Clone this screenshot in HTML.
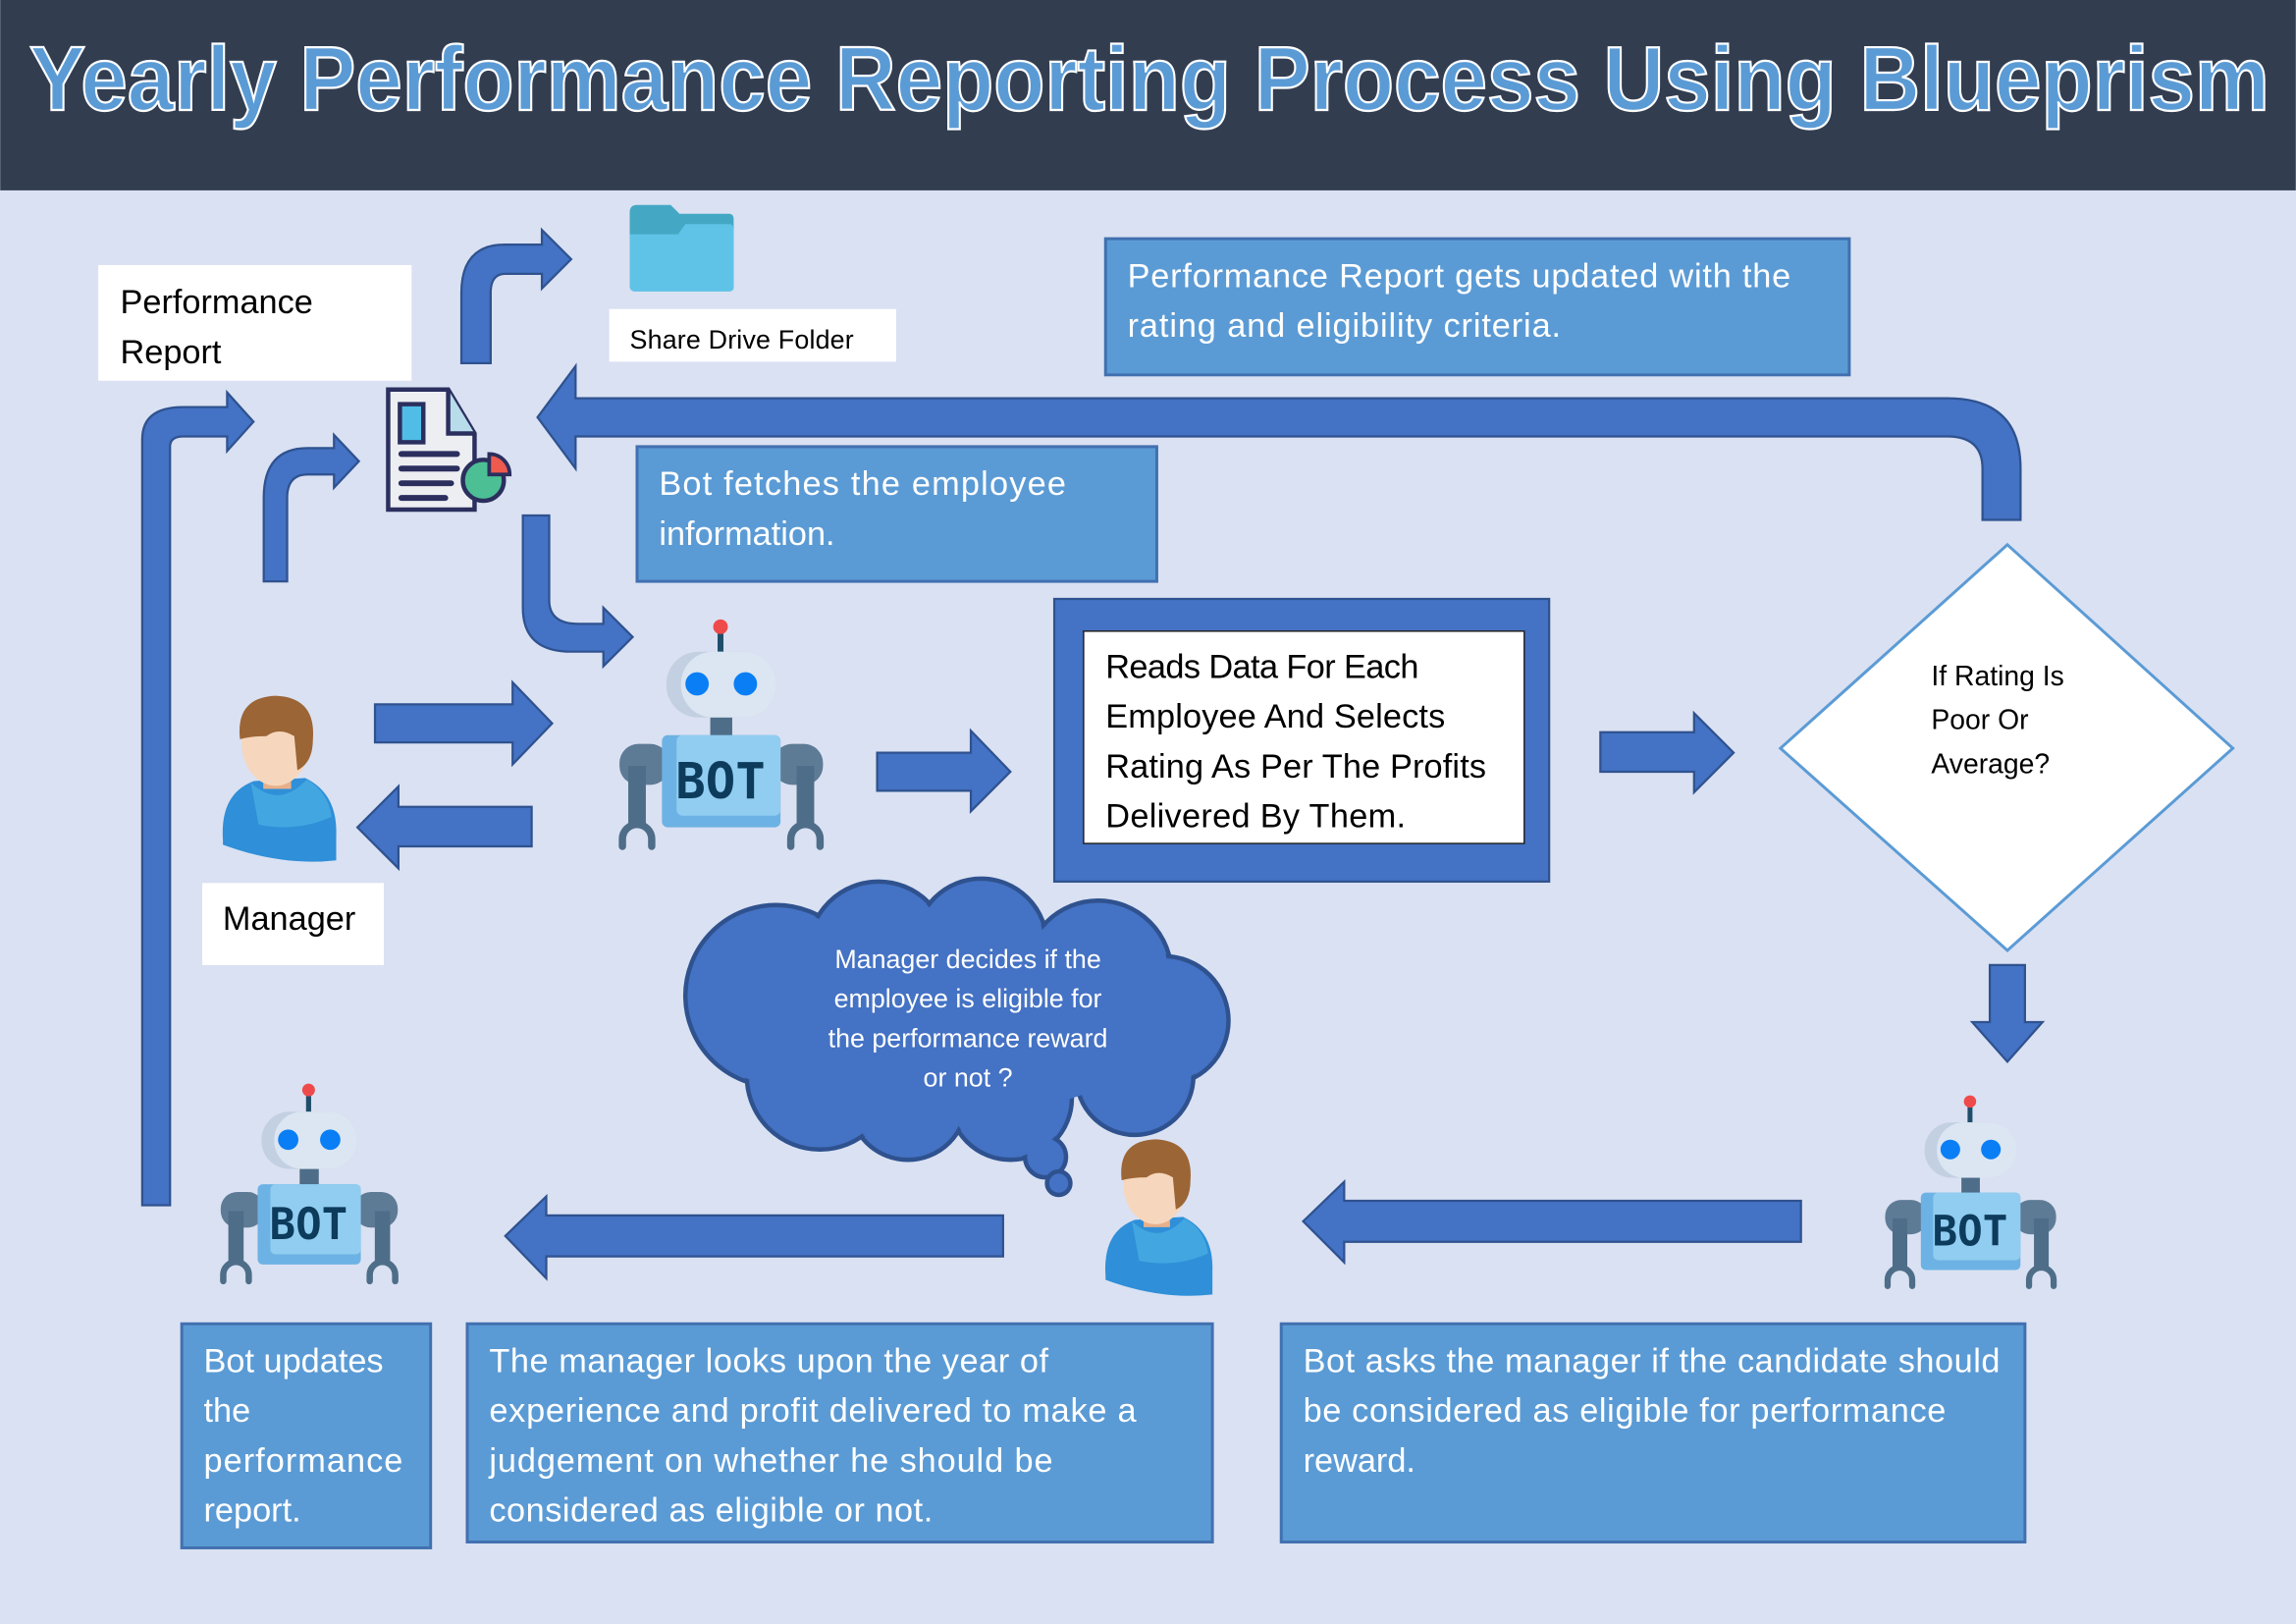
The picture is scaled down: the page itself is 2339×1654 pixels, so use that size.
<!DOCTYPE html>
<html><head><meta charset="utf-8"><style>
html,body{margin:0;padding:0;background:#dae1f2;}
svg{display:block;}
text{font-family:"Liberation Sans",sans-serif;}
</style></head><body>
<svg width="2339" height="1654" viewBox="0 0 1568 1109" xmlns="http://www.w3.org/2000/svg">
<rect width="1568" height="1109" fill="#dae1f2"/>
<rect width="1568" height="130" fill="#323d50"/>
<text x="20" y="75" font-size="62" font-weight="bold" fill="#5b9bd5" stroke="#ffffff" stroke-width="1.5" textLength="1530" lengthAdjust="spacingAndGlyphs" style="font-family:'Liberation Sans Narrow','Liberation Sans',sans-serif">Yearly Performance Reporting Process Using Blueprism</text>

<g fill="#4472c4" stroke="#2f528f" stroke-width="1.5">
<path d="M1354,355 L1354,320 Q1354,298 1330,298 L393,298 L393,320 L367,285 L393,250 L393,272 L1330,272 Q1380,272 1380,320 L1380,355 Z"/>
<path d="M315,248 L315,200 Q315,167 345,167 L370,167 L370,157 L390,177 L370,197 L370,187 L345,187 Q335,187 335,200 L335,248 Z"/>
<path d="M180,397 L180,340 Q180,306 210,306 L228,306 L228,297 L245,315 L228,333 L228,324 L210,324 Q196,324 196,340 L196,397 Z"/>
<path d="M97,823 L97,300 Q97,278 125,278 L155,278 L155,268 L173,288 L155,308 L155,298 L125,298 Q116,298 116,305 L116,823 Z"/>
<path d="M357,352 L375,352 L375,410 Q375,426 395,426 L412,426 L412,415 L432,435 L412,455 L412,445 L390,445 Q357,445 357,415 Z"/>
<path d="M256,481 L350,481 L350,466 L377,494 L350,522 L350,507 L256,507 Z"/>
<path d="M363,551 L272,551 L272,537 L244,565 L272,593 L272,578 L363,578 Z"/>
<path d="M599,514 L663,514 L663,499 L690,527 L663,554 L663,540 L599,540 Z"/>
<path d="M1093,500 L1157,500 L1157,487 L1184,514 L1157,541 L1157,527 L1093,527 Z"/>
<path d="M1359,659 L1383,659 L1383,698 L1395,698 L1371,725 L1347,698 L1359,698 Z"/>
<path d="M1230,820 L918,820 L918,807 L890,834 L918,862 L918,848 L1230,848 Z"/>
<path d="M685,830 L373,830 L373,817 L345,844 L373,873 L373,858 L685,858 Z"/>
</g>

<!-- cloud -->
<g fill="#4472c4" stroke="#2f528f" stroke-width="3">
<circle cx="530" cy="680" r="62"/><circle cx="600" cy="650" r="48"/><circle cx="670" cy="645" r="45"/><circle cx="750" cy="665" r="50"/><circle cx="795" cy="697" r="44"/><circle cx="775" cy="735" r="40"/><circle cx="690" cy="750" r="42"/><circle cx="620" cy="752" r="40"/><circle cx="560" cy="735" r="50"/>
<circle cx="714" cy="790" r="14"/><circle cx="723" cy="808" r="8"/>
</g>
<g fill="#4472c4">
<circle cx="530" cy="680" r="60"/><circle cx="600" cy="650" r="46"/><circle cx="670" cy="645" r="43"/><circle cx="750" cy="665" r="48"/><circle cx="795" cy="697" r="42"/><circle cx="775" cy="735" r="38"/><circle cx="690" cy="750" r="40"/><circle cx="620" cy="752" r="38"/><circle cx="560" cy="735" r="48"/><ellipse cx="660" cy="700" rx="130" ry="60"/>
</g>
<g fill="#fff" font-size="18" text-anchor="middle">
<text x="661" y="661">Manager decides if the</text>
<text x="661" y="688">employee is eligible for</text>
<text x="661" y="715">the performance reward</text>
<text x="661" y="742">or not ?</text>
</g>

<!-- white boxes -->
<rect x="67" y="181" width="214" height="79" fill="#fff"/>
<text x="82" y="214" font-size="23">Performance</text>
<text x="82" y="248" font-size="23">Report</text>
<rect x="416" y="211" width="196" height="36" fill="#fff"/>
<text x="430" y="238" font-size="18" textLength="153">Share Drive Folder</text>
<rect x="138" y="603" width="124" height="56" fill="#fff"/>
<text x="152" y="635" font-size="23">Manager</text>

<!-- folder -->
<path d="M430,145 Q430,140 435,140 L458,140 L464,146 L498,146 Q501,146 501,150 L501,196 Q501,199 497,199 L434,199 Q430,199 430,195 Z" fill="#44a8c4"/>
<path d="M430,160 L463,160 L468,153 L498,153 Q501,153 501,157 L501,196 Q501,199 497,199 L434,199 Q430,199 430,195 Z" fill="#5fc3e8"/>

<!-- document icon -->
<g stroke="#2b2f5e" stroke-width="3">
<path d="M265,266 L306,266 L324,296 L324,348 L265,348 Z" fill="#eceef2"/>
<path d="M306,266 L306,296 L324,296" fill="#b8dcea"/>
<rect x="273" y="276" width="16" height="26" fill="#4fbde6"/>
</g>
<g stroke="#2b2f5e" stroke-width="4" stroke-linecap="round">
<line x1="274" y1="310" x2="312" y2="310"/><line x1="274" y1="320" x2="312" y2="320"/><line x1="274" y1="330" x2="308" y2="330"/><line x1="274" y1="340" x2="304" y2="340"/>
</g>
<circle cx="330" cy="328" r="14" fill="#4dbf94" stroke="#2b2f5e" stroke-width="3"/>
<path d="M334,310 A14,14 0 0 1 348,324 L334,324 Z" fill="#ef5a4e" stroke="#2b2f5e" stroke-width="2.5"/>

<!-- blue text boxes -->
<g fill="#5b9bd5" stroke="#4170b0" stroke-width="2">
<rect x="755" y="163" width="508" height="93"/>
<rect x="435" y="305" width="355" height="92"/>
<rect x="124" y="904" width="170" height="153"/>
<rect x="319" y="904" width="509" height="149"/>
<rect x="875" y="904" width="508" height="149"/>
</g>
<g fill="#fff" font-size="23">
<text x="770" y="196" textLength="453">Performance Report gets updated with the</text>
<text x="770" y="230" textLength="296">rating and eligibility criteria.</text>
<text x="450" y="338" textLength="278">Bot fetches  the employee</text>
<text x="450" y="372">information.</text>
<text x="139" y="937">Bot updates</text>
<text x="139" y="971">the</text>
<text x="139" y="1005" textLength="136">performance</text>
<text x="139" y="1039">report.</text>
<text x="334" y="937" textLength="382">The manager looks upon the year of</text>
<text x="334" y="971" textLength="442">experience and profit delivered to make a</text>
<text x="334" y="1005" textLength="385">judgement on whether he should be</text>
<text x="334" y="1039" textLength="303">considered as eligible or not.</text>
<text x="890" y="937" textLength="476">Bot asks the manager if the candidate should</text>
<text x="890" y="971" textLength="439">be considered as eligible for performance</text>
<text x="890" y="1005">reward.</text>
</g>

<!-- reads box -->
<rect x="720" y="409" width="338" height="193" fill="#4472c4" stroke="#2f528f" stroke-width="1.5"/>
<rect x="740" y="431" width="301" height="145" fill="#fff" stroke="#222" stroke-width="1"/>
<g font-size="23" fill="#000">
<text x="755" y="463" textLength="214">Reads Data For Each</text>
<text x="755" y="497" textLength="232">Employee And Selects</text>
<text x="755" y="531" textLength="260">Rating As Per The Profits</text>
<text x="755" y="565" textLength="205">Delivered By Them.</text>
</g>

<!-- diamond -->
<polygon points="1371,372 1525,511 1371,649 1216,511" fill="#fff" stroke="#5b9bd5" stroke-width="2"/>
<g font-size="19" fill="#000">
<text x="1319" y="468">If Rating Is</text>
<text x="1319" y="498">Poor Or</text>
<text x="1319" y="528">Average?</text>
</g>

<!-- bots -->
<g id="b1" transform="translate(420,423)">
<line x1="72" y1="6" x2="72" y2="24" stroke="#1f4e6b" stroke-width="4"/>
<circle cx="72" cy="5" r="5" fill="#ef4a4a"/>
<rect x="35" y="22" width="75" height="45" rx="22" fill="#c3d0e2"/>
<rect x="45" y="22" width="65" height="45" rx="22" fill="#dbe6f2"/>
<circle cx="56" cy="44" r="8" fill="#0a7ef5"/><circle cx="89" cy="44" r="8" fill="#0a7ef5"/>
<rect x="65" y="67" width="15" height="14" fill="#4e6d88"/>
<rect x="3" y="85" width="34" height="28" rx="13" fill="#5e7b96"/>
<rect x="108" y="85" width="34" height="28" rx="13" fill="#5e7b96"/>
<rect x="9" y="100" width="12" height="42" fill="#4e6d88"/>
<rect x="124" y="100" width="12" height="42" fill="#4e6d88"/>
<path d="M5,155 L5,150 A10,10 0 0 1 25,150 L25,155" fill="none" stroke="#4e6d88" stroke-width="5" stroke-linecap="round"/>
<path d="M120,155 L120,150 A10,10 0 0 1 140,150 L140,155" fill="none" stroke="#4e6d88" stroke-width="5" stroke-linecap="round"/>
<rect x="32" y="79" width="81" height="63" rx="4" fill="#6db2e4"/>
<rect x="42" y="79" width="71" height="55" rx="4" fill="#90cdf0"/>
<text x="72" y="122" font-size="34" font-weight="bold" fill="#0d3b5c" text-anchor="middle" style="font-family:'DejaVu Sans Mono','Liberation Mono',monospace">BOT</text>
</g>
<g transform="translate(148,740) scale(0.87)">
<line x1="72" y1="6" x2="72" y2="24" stroke="#1f4e6b" stroke-width="4"/>
<circle cx="72" cy="5" r="5" fill="#ef4a4a"/>
<rect x="35" y="22" width="75" height="45" rx="22" fill="#c3d0e2"/>
<rect x="45" y="22" width="65" height="45" rx="22" fill="#dbe6f2"/>
<circle cx="56" cy="44" r="8" fill="#0a7ef5"/><circle cx="89" cy="44" r="8" fill="#0a7ef5"/>
<rect x="65" y="67" width="15" height="14" fill="#4e6d88"/>
<rect x="3" y="85" width="34" height="28" rx="13" fill="#5e7b96"/>
<rect x="108" y="85" width="34" height="28" rx="13" fill="#5e7b96"/>
<rect x="9" y="100" width="12" height="42" fill="#4e6d88"/>
<rect x="124" y="100" width="12" height="42" fill="#4e6d88"/>
<path d="M5,155 L5,150 A10,10 0 0 1 25,150 L25,155" fill="none" stroke="#4e6d88" stroke-width="5" stroke-linecap="round"/>
<path d="M120,155 L120,150 A10,10 0 0 1 140,150 L140,155" fill="none" stroke="#4e6d88" stroke-width="5" stroke-linecap="round"/>
<rect x="32" y="79" width="81" height="63" rx="4" fill="#6db2e4"/>
<rect x="42" y="79" width="71" height="55" rx="4" fill="#90cdf0"/>
<text x="72" y="122" font-size="34" font-weight="bold" fill="#0d3b5c" text-anchor="middle" style="font-family:'DejaVu Sans Mono','Liberation Mono',monospace">BOT</text>
</g>
<g transform="translate(1285,748) scale(0.84)">
<line x1="72" y1="6" x2="72" y2="24" stroke="#1f4e6b" stroke-width="4"/>
<circle cx="72" cy="5" r="5" fill="#ef4a4a"/>
<rect x="35" y="22" width="75" height="45" rx="22" fill="#c3d0e2"/>
<rect x="45" y="22" width="65" height="45" rx="22" fill="#dbe6f2"/>
<circle cx="56" cy="44" r="8" fill="#0a7ef5"/><circle cx="89" cy="44" r="8" fill="#0a7ef5"/>
<rect x="65" y="67" width="15" height="14" fill="#4e6d88"/>
<rect x="3" y="85" width="34" height="28" rx="13" fill="#5e7b96"/>
<rect x="108" y="85" width="34" height="28" rx="13" fill="#5e7b96"/>
<rect x="9" y="100" width="12" height="42" fill="#4e6d88"/>
<rect x="124" y="100" width="12" height="42" fill="#4e6d88"/>
<path d="M5,155 L5,150 A10,10 0 0 1 25,150 L25,155" fill="none" stroke="#4e6d88" stroke-width="5" stroke-linecap="round"/>
<path d="M120,155 L120,150 A10,10 0 0 1 140,150 L140,155" fill="none" stroke="#4e6d88" stroke-width="5" stroke-linecap="round"/>
<rect x="32" y="79" width="81" height="63" rx="4" fill="#6db2e4"/>
<rect x="42" y="79" width="71" height="55" rx="4" fill="#90cdf0"/>
<text x="72" y="122" font-size="34" font-weight="bold" fill="#0d3b5c" text-anchor="middle" style="font-family:'DejaVu Sans Mono','Liberation Mono',monospace">BOT</text>
</g>

<!-- persons -->
<g transform="translate(150,473) scale(1.06)">
<path d="M2,95 Q0,65 22,57 L55,55 Q76,65 75,92 L75,108 Q40,112 2,98 Z" fill="#2f8fd8"/>
<path d="M20,58 Q38,75 56,56 Q70,64 72,80 Q50,90 25,85 Z" fill="#4ab0e6" opacity="0.7"/>
<rect x="28" y="48" width="18" height="14" fill="#e8b08a"/>
<ellipse cx="36" cy="32" rx="22" ry="28" fill="#f6d7bd"/>
<path d="M13,30 Q10,3 36,2 Q62,3 60,30 Q60,45 50,50 L48,28 Q38,22 30,28 Q20,28 13,30 Z" fill="#9c6535"/>
</g>
<g transform="translate(753,776)">
<path d="M2,95 Q0,65 22,57 L55,55 Q76,65 75,92 L75,108 Q40,112 2,98 Z" fill="#2f8fd8"/>
<path d="M20,58 Q38,75 56,56 Q70,64 72,80 Q50,90 25,85 Z" fill="#4ab0e6" opacity="0.7"/>
<rect x="28" y="48" width="18" height="14" fill="#e8b08a"/>
<ellipse cx="36" cy="32" rx="22" ry="28" fill="#f6d7bd"/>
<path d="M13,30 Q10,3 36,2 Q62,3 60,30 Q60,45 50,50 L48,28 Q38,22 30,28 Q20,28 13,30 Z" fill="#9c6535"/>
</g>
</svg>
</body></html>
